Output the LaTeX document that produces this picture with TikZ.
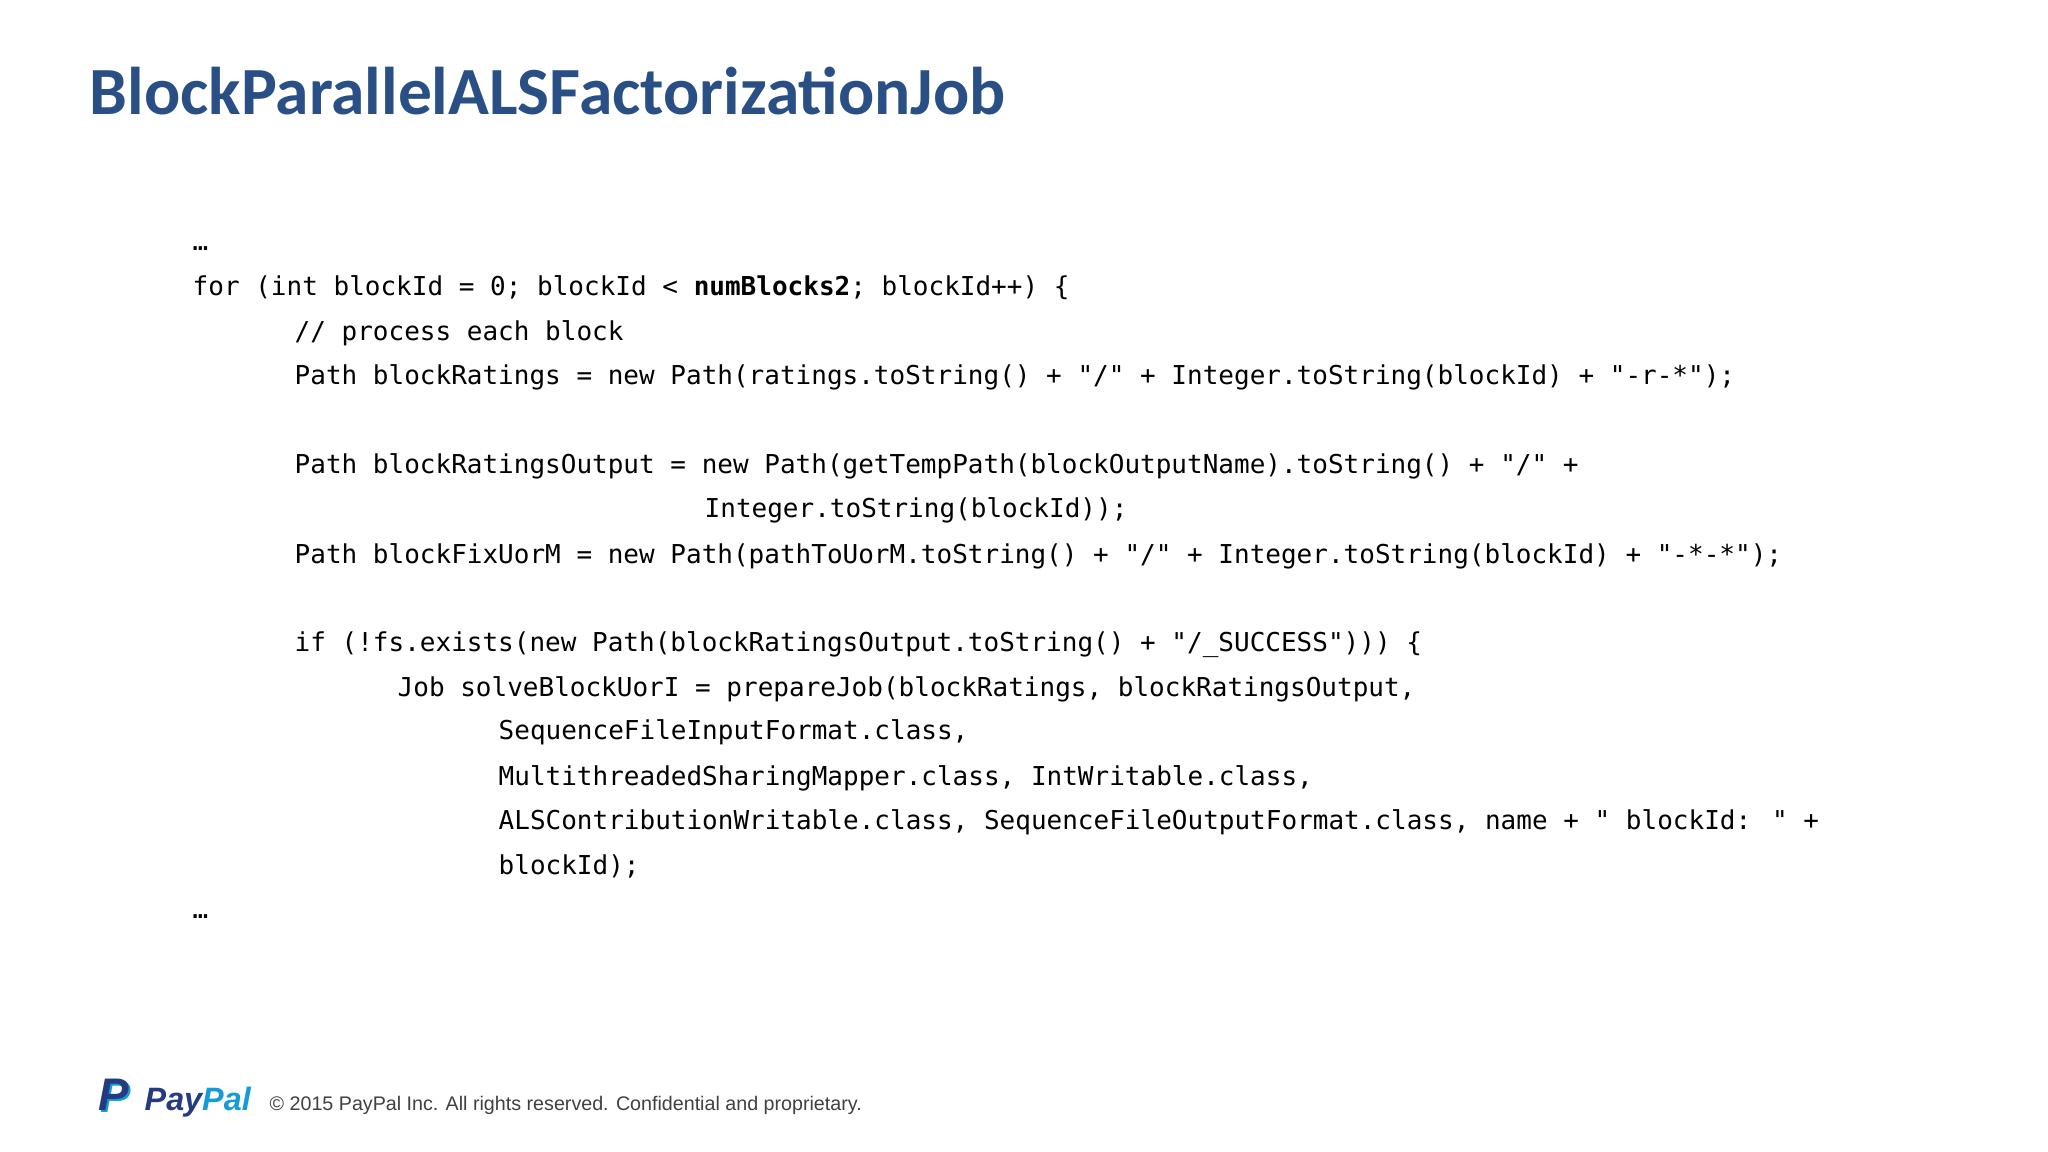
\documentclass[tikz,border=0pt]{standalone}
\usepackage{fontspec}
\setmainfont{Carlito}
\newfontfamily\codefont{DejaVu Sans Mono}
\newfontfamily\footfont{Liberation Sans}
\definecolor{titleblue}{HTML}{2A4F85}
\definecolor{ppdark}{HTML}{253B80}
\definecolor{pplight}{HTML}{179BD7}
\begin{document}
\begin{tikzpicture}[x=1cm,y=1cm,
  code/.style={anchor=base west,inner sep=0pt,font=\codefont\fontsize{7.4}{8}\selectfont,text=black}]
\useasboundingbox (0,0) rectangle (20.48,-11.52);
\node[anchor=base west,inner sep=0pt,font=\bfseries\fontsize{19.2}{22}\selectfont,text=titleblue] (title) at (0.89,-1.15) {BlockParallelALSFactorizationJob};
\node[code] (l0) at (1.92,-2.51) {…};
\node[code] (l1) at (1.92,-2.96) {for (int blockId = 0; blockId < \textbf{numBlocks2}; blockId++) \{};
\node[code] (l2) at (2.94,-3.41) {// process each block};
\node[code] (l3) at (2.94,-3.85) {Path blockRatings = new Path(ratings.toString() + "/" + Integer.toString(blockId) + "-r-*");};
\node[code] (l4) at (2.94,-4.74) {Path blockRatingsOutput = new Path(getTempPath(blockOutputName).toString() + "/" +};
\node[code] (l5) at (7.04,-5.18) {Integer.toString(blockId));};
\node[code] (l6) at (2.94,-5.63) {Path blockFixUorM = new Path(pathToUorM.toString() + "/" + Integer.toString(blockId) + "-*-*");};
\node[code] (l7) at (2.94,-6.52) {if (!fs.exists(new Path(blockRatingsOutput.toString() + "/\_SUCCESS"))) \{};
\node[code] (l8) at (3.97,-6.96) {Job solveBlockUorI = prepareJob(blockRatings, blockRatingsOutput,};
\node[code] (l9) at (4.98,-7.40) {SequenceFileInputFormat.class,};
\node[code] (l10) at (4.98,-7.85) {MultithreadedSharingMapper.class, IntWritable.class,};
\node[code] (l11) at (4.98,-8.29) {ALSContributionWritable.class, SequenceFileOutputFormat.class, name + " blockId: " +};
\node[code] (l12) at (4.98,-8.74) {blockId);};
\node[code] (l13) at (1.92,-9.18) {…};
% PayPal logo
\node[anchor=base west,inner sep=0pt,font=\footfont\bfseries\itshape\fontsize{13}{14}\selectfont] (pp) at (0.98,-11.10) {\rlap{\raisebox{-0.6pt}{\hspace{0.6pt}\textcolor{pplight}{P}}}\textcolor{ppdark}{P}};
\node[anchor=base west,inner sep=0pt,font=\footfont\bfseries\itshape\fontsize{9.2}{10}\selectfont] (pptext) at (1.44,-11.10) {\textcolor{ppdark}{Pay}\textcolor{pplight}{Pal}};
\node[anchor=base west,inner sep=0pt,font=\footfont\fontsize{5.6}{6}\selectfont,text=black!75] (foot) at (2.69,-11.10) {© 2015 PayPal Inc. All rights reserved. Confidential and proprietary.};
\end{tikzpicture}
\end{document}
